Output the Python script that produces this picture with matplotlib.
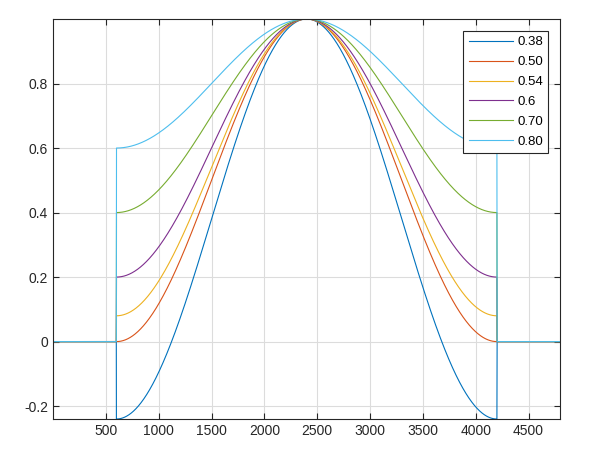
import numpy as np
import matplotlib.pyplot as plt

# generalized Hamming window coefficients (legend labels)
alphas = [0.38, 0.50, 0.54, 0.6, 0.70, 0.80]
labels = ["0.38", "0.50", "0.54", "0.6", "0.70", "0.80"]
colors = ["#0072BD", "#D95319", "#EDB120", "#7E2F8E", "#77AC30", "#4DBEEE"]

# window support inside the sample axis
n_total = 4800
win_start = 600
win_end = 4200

plt.rcParams['font.family'] = ['Liberation Sans', 'DejaVu Sans']

fig = plt.figure(figsize=(5.92, 4.53), dpi=100)
ax = fig.add_axes([0.0895, 0.075, 0.857, 0.883])

x = np.arange(0, n_total + 1)
inside = (x >= win_start) & (x <= win_end)
length = win_end - win_start

for a, lab, c in zip(alphas, labels, colors):
    y = np.zeros_like(x, dtype=float)
    y[inside] = a - (1 - a) * np.cos(2 * np.pi * (x[inside] - win_start) / length)
    ax.plot(x, y, color=c, lw=0.8, label=lab)

ax.set_xlim(0, n_total)
ax.set_ylim(-0.24, 0.9999)
ax.set_xticks(np.arange(500, 4501, 500))
ax.set_yticks([-0.2, 0, 0.2, 0.4, 0.6, 0.8])
ax.set_yticklabels(["-0.2", "0", "0.2", "0.4", "0.6", "0.8"])
ax.grid(True, color="#dcdcdc", lw=0.8)
ax.set_axisbelow(True)
ax.tick_params(direction="in", length=4, colors="#262626", labelsize=10, top=True, right=True, labeltop=False, labelright=False)
for s in ax.spines.values():
    s.set_color("#262626")
    s.set_linewidth(0.8)

leg = ax.legend(loc="upper right", fontsize=9.5, handlelength=3.4, handletextpad=0.3,
                labelspacing=0.58, borderaxespad=0.9, fancybox=False, framealpha=1,
                edgecolor="#262626", borderpad=0.4)
leg.get_frame().set_linewidth(0.8)

fig.savefig("out.png", dpi=100)
